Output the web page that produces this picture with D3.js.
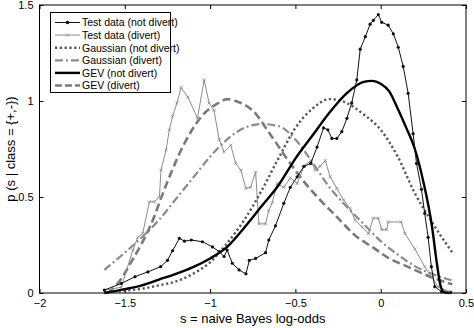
<!DOCTYPE html>
<html>
<head>
<meta charset="utf-8">
<script src="https://cdn.jsdelivr.net/npm/d3@7"></script>
<style>
  body { margin: 0; background: #fff; }
  text { font-family: "Liberation Sans", Arial, sans-serif; fill: #000; }
</style>
</head>
<body>
<div id="chart"></div>
<script>
// values, [s, p]
var testNotDivert = [[-1.62,0.015],[-1.52,0.05],[-1.44,0.085],[-1.365,0.11],[-1.29,0.137],[-1.25,0.17],[-1.22,0.22],[-1.18,0.285],[-1.15,0.27],[-1.11,0.276],
  [-1.045,0.267],[-0.986,0.24],[-0.947,0.215],[-0.918,0.19],[-0.9,0.224],[-0.87,0.155],[-0.83,0.12],[-0.79,0.10],[-0.77,0.17],[-0.733,0.18],
  [-0.675,0.21],[-0.656,0.276],[-0.617,0.35],[-0.568,0.467],[-0.53,0.55],[-0.49,0.605],[-0.45,0.66],[-0.41,0.675],[-0.373,0.76],[-0.335,0.86],
  [-0.31,0.85],[-0.286,0.805],[-0.257,0.805],[-0.228,0.84],[-0.198,0.91],[-0.17,0.99],[-0.14,1.11],[-0.12,1.27],[-0.09,1.335],[-0.062,1.40],
  [-0.043,1.42],[-0.014,1.45],[0.006,1.41],[0.044,1.395],[0.074,1.35],[0.103,1.28],[0.132,1.18],[0.161,1.04],[0.19,0.83],[0.21,0.675],
  [0.239,0.54],[0.258,0.415],[0.278,0.29],[0.297,0.137],[0.317,0.033],[0.356,0.007],[0.41,0.002]];

var testDivert = [[-1.62,0.015],[-1.52,0.03],[-1.453,0.224],[-1.424,0.29],[-1.395,0.31],[-1.356,0.475],[-1.327,0.475],[-1.297,0.50],[-1.288,0.64],[-1.258,0.745],
  [-1.239,0.85],[-1.22,0.92],[-1.194,0.99],[-1.17,1.07],[-1.13,1.02],[-1.074,0.91],[-1.035,1.11],[-1.006,0.99],[-0.977,0.95],[-0.947,0.80],
  [-0.918,0.735],[-0.879,0.77],[-0.85,0.675],[-0.82,0.64],[-0.79,0.545],[-0.763,0.55],[-0.733,0.63],[-0.714,0.36],[-0.675,0.36],[-0.656,0.43],
  [-0.636,0.47],[-0.607,0.57],[-0.568,0.55],[-0.53,0.60],[-0.49,0.57],[-0.45,0.66],[-0.41,0.69],[-0.383,0.64],[-0.354,0.66],[-0.325,0.69],
  [-0.296,0.605],[-0.257,0.545],[-0.218,0.485],[-0.18,0.44],[-0.15,0.38],[-0.11,0.345],[-0.072,0.31],[-0.043,0.39],[-0.014,0.39],[0.006,0.33],
  [0.035,0.33],[0.044,0.37],[0.12,0.37],[0.142,0.31],[0.2,0.23],[0.258,0.137],[0.297,0.085],[0.336,0.033],[0.375,0.016],[0.414,0.007]];

var gaussNotDivert = [[-1.62,0.005],[-1.5,0.012],[-1.4,0.022],[-1.3,0.04],[-1.2,0.06],[-1.1,0.10],[-1.0,0.16],[-0.9,0.26],[-0.8,0.38],[-0.7,0.53],
  [-0.6,0.70],[-0.5,0.86],[-0.4,0.96],[-0.3,1.01],[-0.2,0.99],[-0.1,0.93],[0,0.85],[0.1,0.71],[0.2,0.52],[0.3,0.37],[0.42,0.21]];

var gaussDivert = [[-1.62,0.12],[-1.5,0.21],[-1.4,0.29],[-1.3,0.38],[-1.2,0.49],[-1.1,0.60],[-1.0,0.71],[-0.9,0.80],[-0.8,0.86],[-0.7,0.88],
  [-0.6,0.87],[-0.5,0.80],[-0.4,0.68],[-0.3,0.55],[-0.2,0.45],[-0.1,0.36],[0,0.27],[0.1,0.20],[0.2,0.14],[0.3,0.10],[0.42,0.065]];

var gevNotDivert = [[-1.62,0],[-1.5,0.02],[-1.4,0.04],[-1.3,0.07],[-1.2,0.10],[-1.1,0.135],[-1.0,0.18],[-0.9,0.24],[-0.8,0.34],[-0.7,0.45],
  [-0.6,0.56],[-0.5,0.70],[-0.4,0.82],[-0.3,0.94],[-0.2,1.04],[-0.1,1.10],[-0.05,1.105],[0,1.09],[0.05,1.05],[0.1,0.96],
  [0.15,0.86],[0.2,0.75],[0.25,0.58],[0.3,0.35],[0.33,0.15],[0.35,0.04],[0.37,0.005],[0.4,0]];

var gevDivert = [[-1.6,0.0],[-1.55,0.04],[-1.45,0.18],[-1.35,0.35],[-1.25,0.58],[-1.15,0.78],[-1.05,0.92],[-0.95,0.99],[-0.9,1.01],[-0.85,1.0],
  [-0.75,0.95],[-0.65,0.83],[-0.55,0.70],[-0.45,0.58],[-0.35,0.48],[-0.25,0.39],[-0.15,0.30],[-0.05,0.24],[0.05,0.18],[0.15,0.14],
  [0.25,0.10],[0.35,0.065],[0.42,0.045]];

var xTicks = [-2, -1.5, -1, -0.5, 0, 0.5];
var yTicks = [0, 0.5, 1, 1.5];
var legendLabels = ["Test data (not divert)", "Test data (divert)", "Gaussian (not divert)",
  "Gaussian (divert)", "GEV (not divert)", "GEV (divert)"];

function drawChart() {
    const W = 474, H = 328;
    const left = 39.5, right = 466, top = 5, bottom = 293;

    const svg = d3.select("#chart").append("svg")
        .attr("width", W).attr("height", H);

    const x = d3.scaleLinear().domain([-2, 0.5]).range([left, right]);
    const y = d3.scaleLinear().domain([0, 1.5]).range([bottom, top]);

    // frame + ticks on all four sides, pointing inward (matlab style)
    svg.append("g").attr("transform", "translate(0," + bottom + ")")
        .call(d3.axisBottom(x).tickValues(xTicks).tickSize(-4).tickPadding(6).tickFormat(d3.format("")))
        .call(g => g.select(".domain").remove());
    svg.append("g").attr("transform", "translate(0," + top + ")")
        .call(d3.axisTop(x).tickValues(xTicks).tickSize(-4).tickFormat(""))
        .call(g => g.select(".domain").remove());
    svg.append("g").attr("transform", "translate(" + left + ",0)")
        .call(d3.axisLeft(y).tickValues(yTicks).tickSize(-4).tickPadding(6).tickFormat(d3.format("")))
        .call(g => g.select(".domain").remove());
    svg.append("g").attr("transform", "translate(" + right + ",0)")
        .call(d3.axisRight(y).tickValues(yTicks).tickSize(-4).tickFormat(""))
        .call(g => g.select(".domain").remove());
    svg.selectAll(".tick text").style("font-size", "11px").style("font-family", "Liberation Sans, Arial, sans-serif");
    svg.selectAll(".tick line").attr("stroke", "#000");

    svg.append("rect")
        .attr("x", left).attr("y", top)
        .attr("width", right - left).attr("height", bottom - top)
        .attr("fill", "none").attr("stroke", "#000").attr("stroke-width", 1);

    const smooth = d3.line().x(d => x(d[0])).y(d => y(d[1])).curve(d3.curveMonotoneX);
    const straight = d3.line().x(d => x(d[0])).y(d => y(d[1]));

    const plot = svg.append("g");

    // Gaussian (divert) dash-dot
    plot.append("path").attr("d", smooth(gaussDivert))
        .attr("fill", "none").attr("stroke", "#8a8a8a").attr("stroke-width", 2.2)
        .attr("stroke-dasharray", "8,3,2,3");
    // GEV (divert) dashed
    plot.append("path").attr("d", smooth(gevDivert))
        .attr("fill", "none").attr("stroke", "#7a7a7a").attr("stroke-width", 2.6)
        .attr("stroke-dasharray", "8,4");
    // test data (divert)
    plot.append("path").attr("d", straight(testDivert))
        .attr("fill", "none").attr("stroke", "#8c8c8c").attr("stroke-width", 1);
    plot.selectAll(".mk2").data(testDivert).enter().append("path")
        .attr("transform", d => "translate(" + x(d[0]) + "," + y(d[1]) + ")")
        .attr("d", "M-1.5,-1.5L1.5,1.5M-1.5,1.5L1.5,-1.5")
        .attr("stroke", "#8c8c8c").attr("stroke-width", 0.8);
    // Gaussian (not divert) dotted
    plot.append("path").attr("d", smooth(gaussNotDivert))
        .attr("fill", "none").attr("stroke", "#555").attr("stroke-width", 2.4)
        .attr("stroke-dasharray", "2.2,2.6");
    // GEV (not divert) solid
    plot.append("path").attr("d", smooth(gevNotDivert))
        .attr("fill", "none").attr("stroke", "#000").attr("stroke-width", 2.4);
    // test data (not divert)
    plot.append("path").attr("d", straight(testNotDivert))
        .attr("fill", "none").attr("stroke", "#111").attr("stroke-width", 1);
    plot.selectAll(".mk1").data(testNotDivert).enter().append("circle")
        .attr("cx", d => x(d[0])).attr("cy", d => y(d[1])).attr("r", 1.6)
        .attr("fill", "#111");

    // legend
    const lg = svg.append("g");
    lg.append("rect").attr("x", 50.5).attr("y", 12.5).attr("width", 120).attr("height", 80)
        .attr("fill", "#fff").attr("stroke", "#000").attr("stroke-width", 1);
    const styles = [
        {c: "#111", w: 1, dash: null, mk: "dot"},
        {c: "#8c8c8c", w: 1, dash: null, mk: "x"},
        {c: "#555", w: 2.4, dash: "2.2,2.6"},
        {c: "#8a8a8a", w: 2.2, dash: "8,3,2,3"},
        {c: "#000", w: 2.4, dash: null},
        {c: "#7a7a7a", w: 2.6, dash: "7,3"}
    ];
    legendLabels.forEach(function (lab, i) {
        const yy = 22.5 + i * 12.6;
        const s = styles[i];
        lg.append("line").attr("x1", 55).attr("x2", 80).attr("y1", yy).attr("y2", yy)
            .attr("stroke", s.c).attr("stroke-width", s.w).attr("stroke-dasharray", s.dash);
        if (s.mk === "dot") lg.append("circle").attr("cx", 67.5).attr("cy", yy).attr("r", 1.8).attr("fill", s.c);
        if (s.mk === "x") lg.append("path").attr("transform", "translate(67.5," + yy + ")")
            .attr("d", "M-1.5,-1.5L1.5,1.5M-1.5,1.5L1.5,-1.5").attr("stroke", s.c).attr("stroke-width", 0.8);
        lg.append("text").attr("x", 82).attr("y", yy + 3.8).style("font-size", "10.5px").text(lab);
    });

    // axis titles
    svg.append("text").attr("x", (left + right) / 2).attr("y", 323)
        .attr("text-anchor", "middle").style("font-size", "13px")
        .text("s = naive Bayes log-odds");
    svg.append("text").attr("transform", "translate(15," + (top + bottom) / 2 + ") rotate(-90)")
        .attr("text-anchor", "middle").style("font-size", "13px")
        .text("p (s | class = {+,-})");
}

window.addEventListener('load', function () {
    drawChart();
});
</script>
</body>
</html>
